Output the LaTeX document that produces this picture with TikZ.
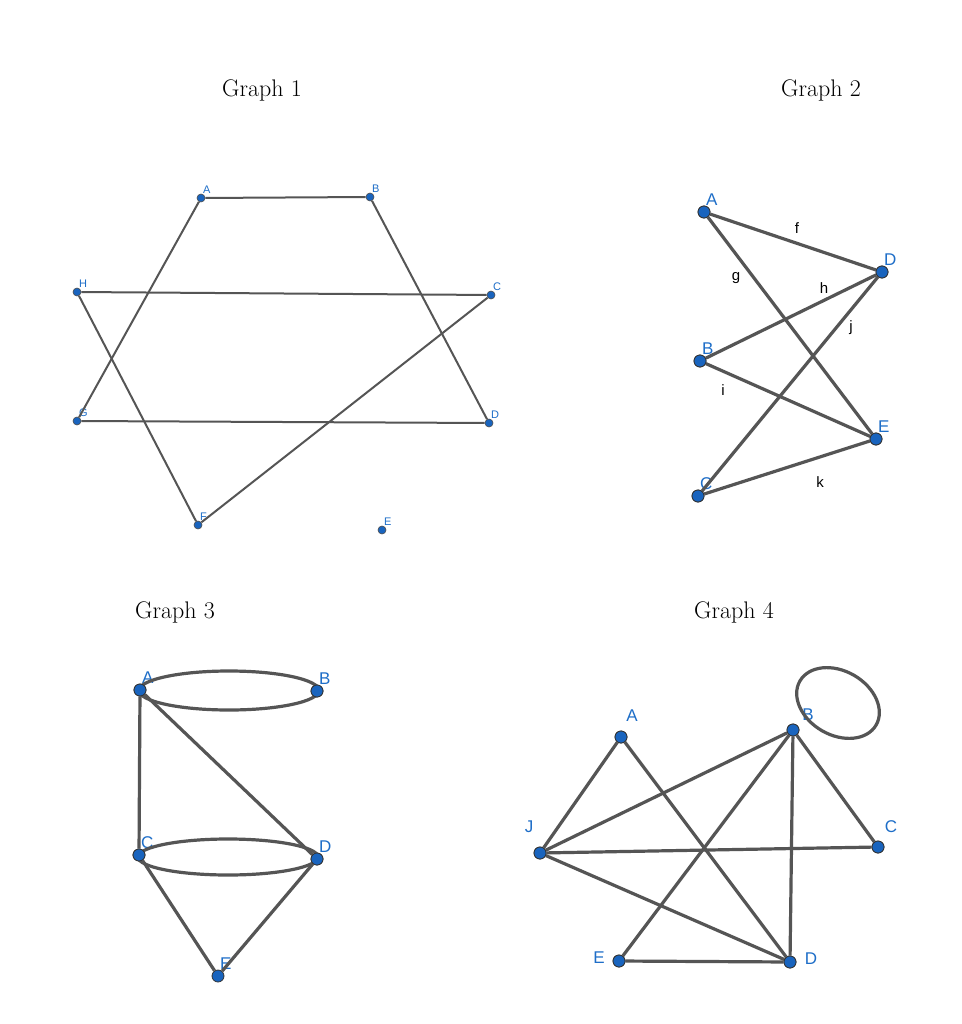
\documentclass[tikz,border=0pt]{standalone}
\usepackage{fontspec}
\newfontfamily\lab{Liberation Sans}
\begin{document}
\begin{tikzpicture}[x=1pt,y=-1pt]
\definecolor{eg}{RGB}{85,85,85}
\definecolor{nb}{RGB}{25,100,190}
\definecolor{lb}{RGB}{30,110,200}
\tikzset{
 v1/.style={circle,fill=nb,draw=black!70,line width=0.6pt,inner sep=0pt,minimum size=8pt},
 v2/.style={circle,fill=nb,draw=black!80,line width=0.8pt,inner sep=0pt,minimum size=12pt},
 e1/.style={draw=eg,line width=2pt},
 e2/.style={draw=eg,line width=3.2pt},
 l1/.style={text=lb,font=\lab\fontsize{11}{11}\selectfont},
 l2/.style={text=lb,font=\lab\fontsize{17}{17}\selectfont},
 el/.style={font=\lab\fontsize{15}{15}\selectfont},
 ttl/.style={font=\fontsize{24}{24}\selectfont}
}
\useasboundingbox (0,0) rectangle (961,1024);
\fill[white] (0,0) rectangle (961,1024);
% titles
\node[ttl] (t1) at (262,90) {Graph 1};
\node[ttl] (t2) at (821,90) {Graph 2};
\node[ttl] (t3) at (175,612) {Graph 3};
\node[ttl] (t4) at (734,612) {Graph 4};
% graph 1
\foreach \n/\x/\y in {A/201/198,B/370/197,H/77/292,C/491/295,G/77/421,D/489/423,F/198/525,E/382/530}{
  \node[v1] (a\n) at (\x,\y) {};
  \node[l1,anchor=south west,inner sep=1pt] (la\n) at (\x+1,\y-3) {\n};
}
\foreach \p/\q in {A/B,B/D,A/G,H/C,H/F,G/D,F/C}{\draw[e1] (a\p)--(a\q);}
% graph 2
\foreach \n/\x/\y in {A/704/212,D/882/272,B/700/361,E/876/439,C/698/496}{
  \node[v2] (b\n) at (\x,\y) {};
  \node[l2,anchor=south west,inner sep=1pt] (lb\n) at (\x+1,\y-5) {\n};
}
\draw[e2] (bA)--(bD); \draw[e2] (bA)--(bE); \draw[e2] (bB)--(bD);
\draw[e2] (bC)--(bD); \draw[e2] (bB)--(bE); \draw[e2] (bC)--(bE);
\node[el] (ef) at (797,228) {f};
\node[el] (eg) at (736,278) {g};
\node[el] (eh) at (824,288) {h};
\node[el] (ej) at (851,328) {j};
\node[el] (ei) at (723,390) {i};
\node[el] (ek) at (820,482) {k};
% graph 3
\foreach \n/\x/\y in {A/140/690,B/317/691,C/139/855,D/317/859,E/218/976}{
  \node[v2] (c\n) at (\x,\y) {};
  \node[l2,anchor=south west,inner sep=1pt] (lc\n) at (\x+1,\y-5) {\n};
}
\draw[e2] (229,690.5) ellipse (90 and 19.5);
\draw[e2] (228,857) ellipse (90 and 18);
\draw[e2] (cA)--(cC); \draw[e2] (cA)--(cD); \draw[e2] (cC)--(cE); \draw[e2] (cD)--(cE);
\foreach \n in {A,B,C,D}{\node[v2] at (c\n) {};}
% graph 4
\foreach \n/\x/\y in {A/621/737,B/793/730,C/878/847,J/540/853,E/619/961,D/790/962}{
  \node[v2] (d\n) at (\x,\y) {};
}
\node[l2] (ldA) at (632,716) {A};
\node[l2] (ldB) at (808,715) {B};
\node[l2] (ldC) at (891,827) {C};
\node[l2] (ldJ) at (529,827) {J};
\node[l2] (ldE) at (599,958) {E};
\node[l2] (ldD) at (811,959) {D};
\draw[e2,rotate around={-30:(838,703)}] (838,703) ellipse (44 and 32);
\foreach \p/\q in {J/A,A/D,J/B,J/C,J/D,B/E,B/D,B/C,E/D}{\draw[e2] (d\p)--(d\q);}
\foreach \n in {A,B,C,J,E,D}{\node[v2] at (d\n) {};}
\foreach \n in {A,B,C,D,E}{\node[v2] at (b\n) {};}
\end{tikzpicture}
\end{document}
